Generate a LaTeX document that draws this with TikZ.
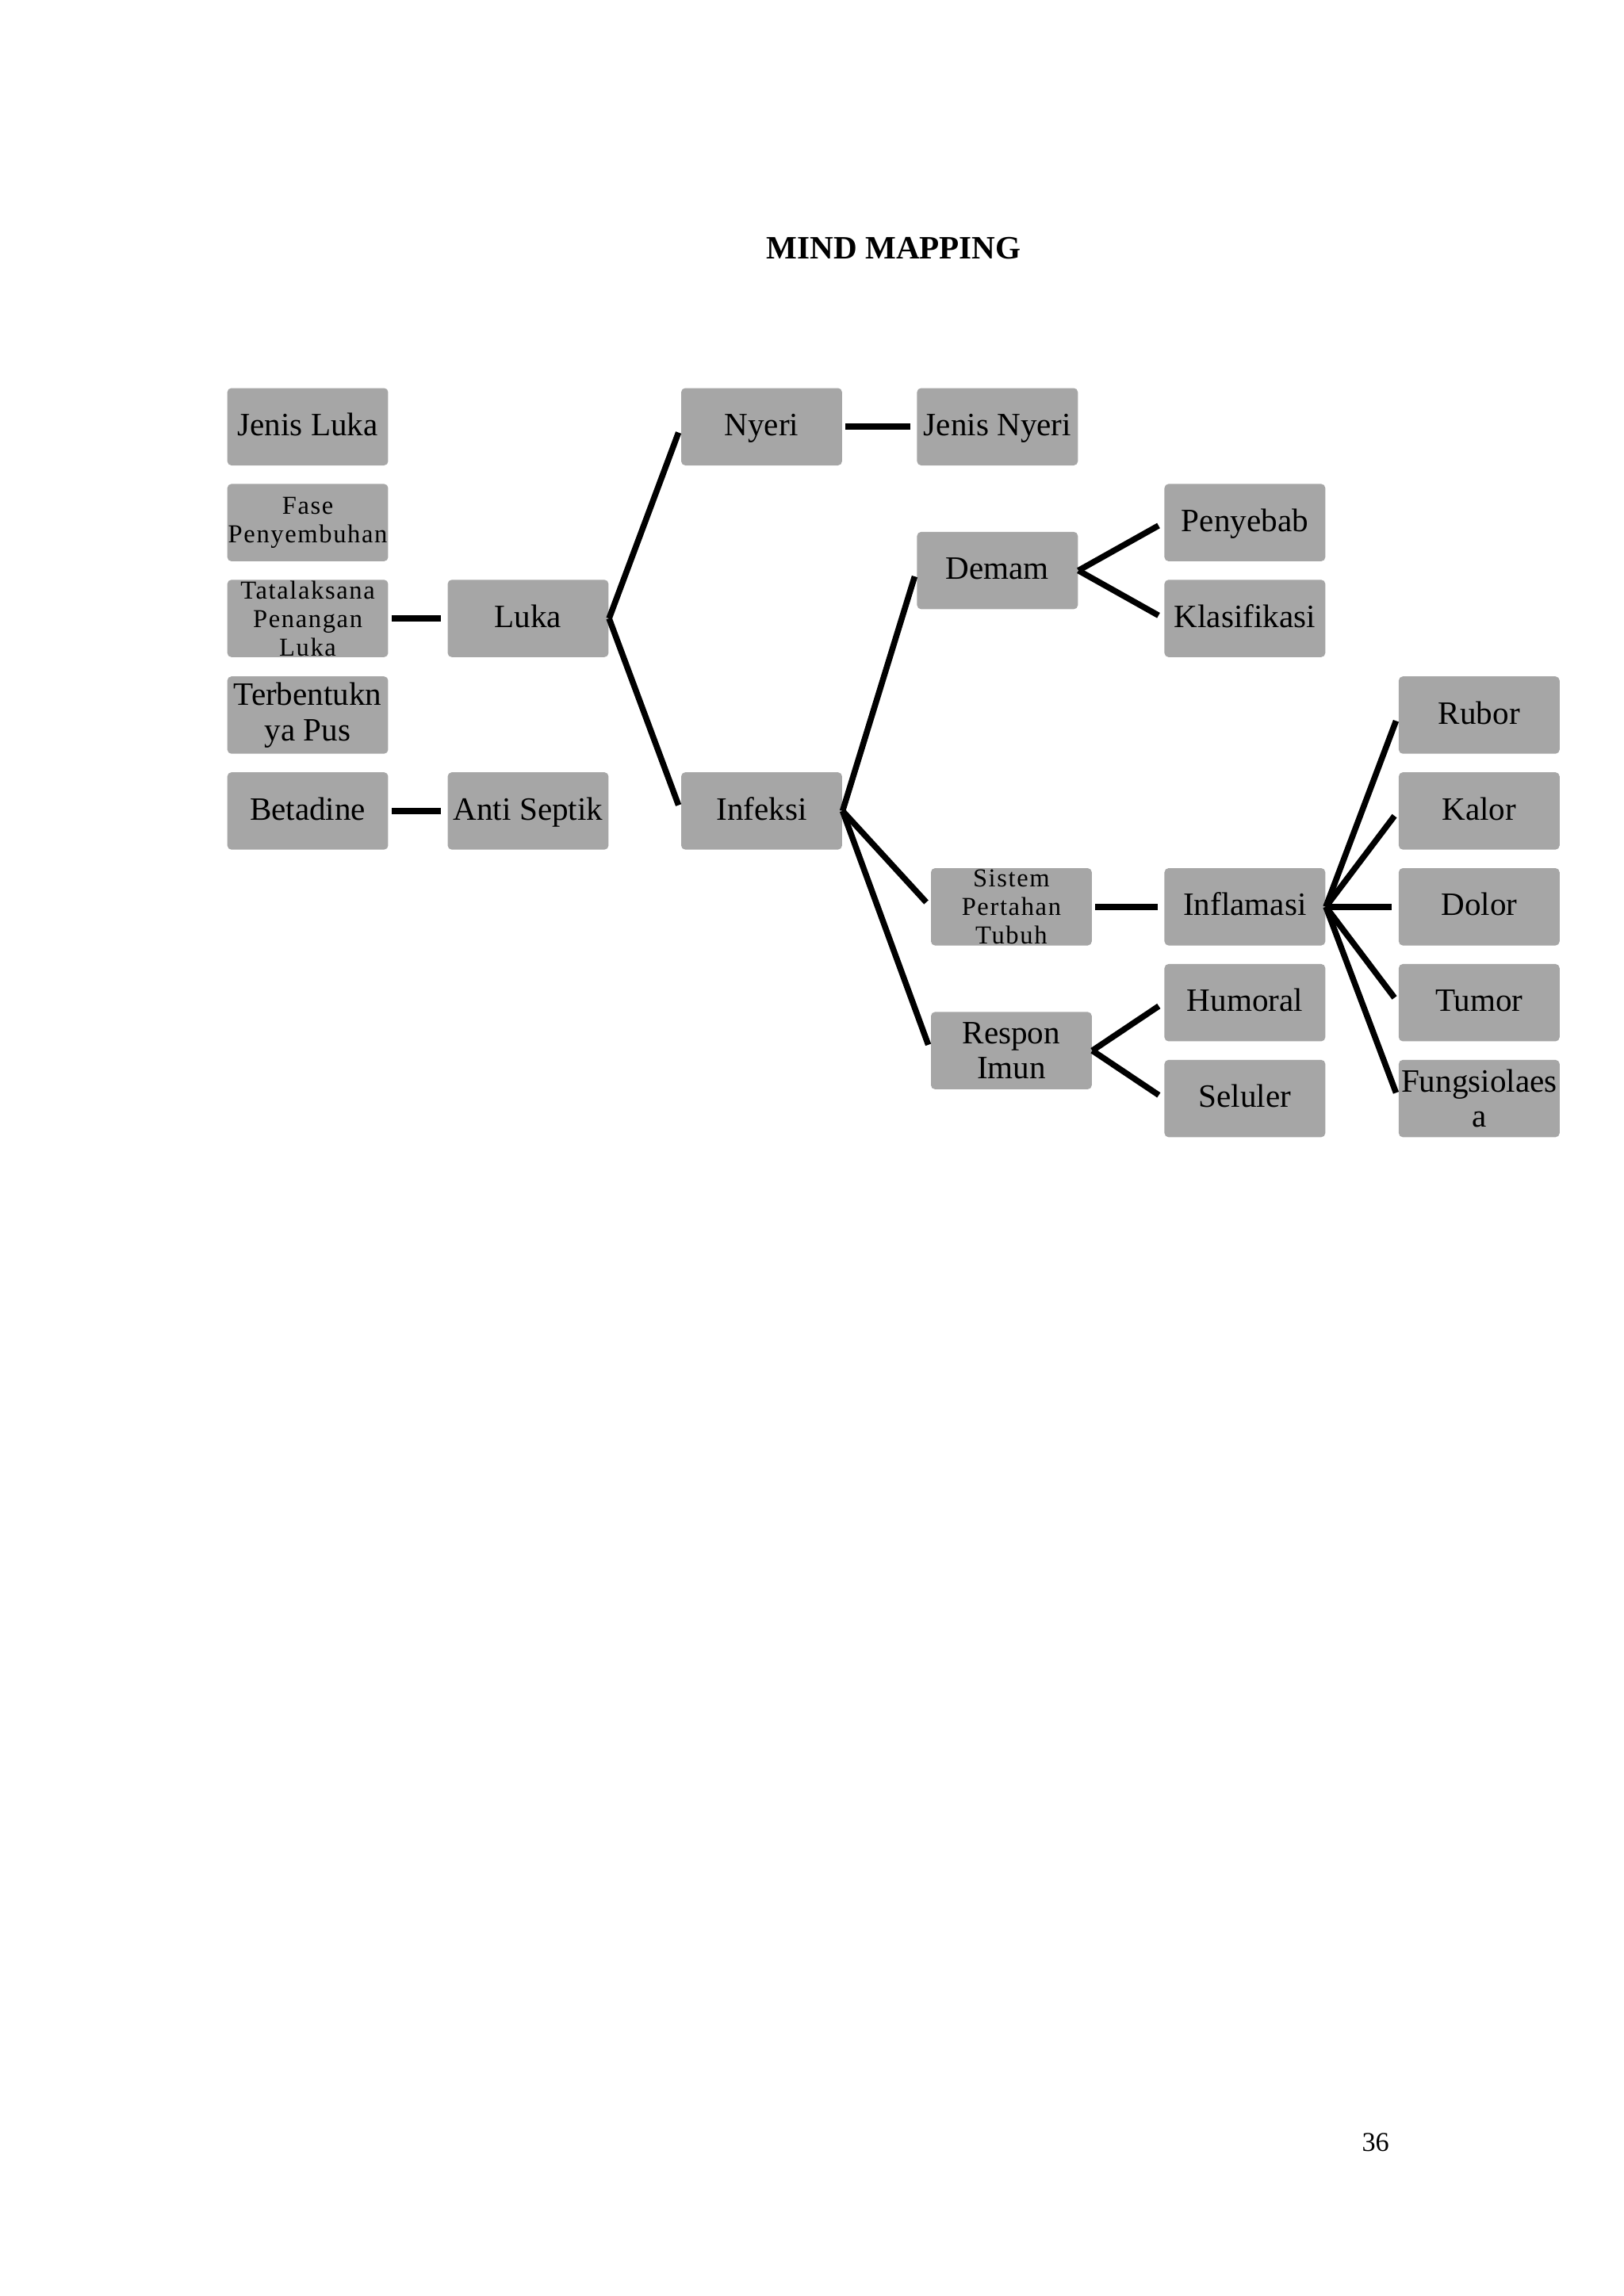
\documentclass[tikz,border=0pt]{standalone}
\usepackage{fontspec}
\setmainfont{Liberation Serif}
\definecolor{boxgray}{RGB}{166,166,166}
\begin{document}
\begin{tikzpicture}
        \tikzstyle{topic}=[rectangle, rounded corners=1.5pt, fill=boxgray,
            minimum width=2.08cm, minimum height=1cm, inner sep=0pt,
            align=center, font=\fontsize{12}{13}\selectfont,
            text height=0.85em, text depth=0.2em]
        \tikzstyle{multi}=[text height=, text depth=]
        \tikzstyle{small}=[multi,
            font=\fontsize{9.5}{10.5}\selectfont\addfontfeature{LetterSpace=5}]
        \tikzstyle{link}=[line width=2.2pt, shorten >=0.08cm]
        \tikzstyle{bar}=[link, shorten <=0.04cm]
        \useasboundingbox (0,0) rectangle (21,-29.7);

        \node[font=\fontsize{12}{14}\selectfont\bfseries] (title) at (11.56, -3.21) {MIND MAPPING};

        \node[topic] (jenisluka) at (3.98, -5.52) {Jenis Luka};
        \node[topic, small] (fase) at (3.98, -6.76) {Fase\\Penyembuhan};
        \node[topic, small] (tatalaksana) at (3.98, -8.00) {Tatalaksana\\Penangan\\Luka};
        \node[topic, multi] (pus) at (3.98, -9.25) {Terbentukn\\ya Pus};
        \node[topic] (betadine) at (3.98, -10.49) {Betadine};

        \node[topic] (luka) at (6.83, -8.00) {Luka};
        \node[topic] (antiseptik) at (6.83, -10.49) {Anti Septik};

        \node[topic] (nyeri) at (9.85, -5.52) {Nyeri};
        \node[topic] (infeksi) at (9.85, -10.49) {Infeksi};

        \node[topic] (jenisnyeri) at (12.90, -5.52) {Jenis Nyeri};
        \node[topic] (demam) at (12.90, -7.38) {Demam};
        \node[topic, small] (sistem) at (13.08, -11.73) {Sistem\\Pertahan\\Tubuh};
        \node[topic, multi] (respon) at (13.08, -13.59) {Respon\\Imun};

        \node[topic] (penyebab) at (16.10, -6.76) {Penyebab};
        \node[topic] (klasifikasi) at (16.10, -8.00) {Klasifikasi};
        \node[topic] (inflamasi) at (16.10, -11.73) {Inflamasi};
        \node[topic] (humoral) at (16.10, -12.97) {Humoral};
        \node[topic] (seluler) at (16.10, -14.21) {Seluler};

        \node[topic] (rubor) at (19.13, -9.25) {Rubor};
        \node[topic] (kalor) at (19.13, -10.49) {Kalor};
        \node[topic] (dolor) at (19.13, -11.73) {Dolor};
        \node[topic] (tumor) at (19.13, -12.97) {Tumor};
        \node[topic, multi] (fungsio) at (19.13, -14.21) {Fungsiolaes\\a};

        \node (page) at (17.79, -27.71) {36};

        \draw[bar] (tatalaksana.east) to (luka.west);
        \draw[bar] (betadine.east) to (antiseptik.west);
        \draw[link] (luka.east) to (nyeri.west);
        \draw[link] (luka.east) to (infeksi.west);
        \draw[bar] (nyeri.east) to (jenisnyeri.west);
        \draw[link] (infeksi.east) to (demam.west);
        \draw[link] (infeksi.east) to (sistem.west);
        \draw[link] (infeksi.east) to (respon.west);
        \draw[link] (demam.east) to (penyebab.west);
        \draw[link] (demam.east) to (klasifikasi.west);
        \draw[bar] (sistem.east) to (inflamasi.west);
        \draw[link] (respon.east) to (humoral.west);
        \draw[link] (respon.east) to (seluler.west);
        \draw[link] (inflamasi.east) to (rubor.west);
        \draw[link] (inflamasi.east) to (kalor.west);
        \draw[link] (inflamasi.east) to (dolor.west);
        \draw[link] (inflamasi.east) to (tumor.west);
        \draw[link] (inflamasi.east) to (fungsio.west);

    \end{tikzpicture}
\end{document}
